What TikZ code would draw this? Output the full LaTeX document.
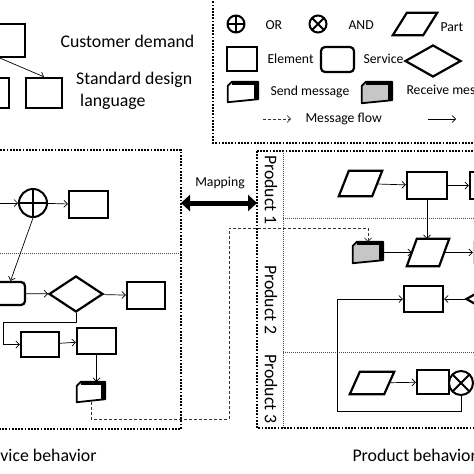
\documentclass[tikz,border=0pt]{standalone}
\usepackage{fontspec}
\setmainfont{Carlito}
\usetikzlibrary{arrows.meta,shapes.geometric,calc}

\newcommand{\msgshape}[2]{%
        \draw[line width=1.8pt,fill=#2,line join=round]
                ($(#1.north west)+(0,4)$) -- ($(#1.north west)+(4,0)$) -- (#1.north east)
                -- ($(#1.south east)+(0,-3)$) -- (#1.south west) -- cycle;
        \fill ($(#1.north west)+(4,0)$) -- (#1.north east) -- ($(#1.south east)+(0,-3)$)
                -- ($(#1.south east)+(-4,-3.5)$) -- ($(#1.north east)+(-4,3)$) -- ($(#1.north west)+(4,3)$) -- cycle;
}
\newcommand{\partshape}[2]{%
        \draw[line width=2.2pt,line join=miter]
                ($(#1.south west)+(-#2/2,0)$) -- ($(#1.north west)+(#2/2,0)$)
                -- ($(#1.north east)+(#2/2,0)$) -- ($(#1.south east)+(-#2/2,0)$) -- cycle;
}

\begin{document}
\begin{tikzpicture}[x=1pt,y=-1pt,
                elem/.style={draw,rectangle,line width=2.2pt,inner sep=0pt},
                serv/.style={elem,rounded corners=4pt},
                dec/.style={draw,diamond,line width=2.2pt,inner sep=0pt},
                part/.style={rectangle,inner sep=0pt},
                gate/.style={draw,circle,line width=2pt,inner sep=0pt},
                orgate/.style={gate,path picture={\draw[line width=2pt] (path picture bounding box.north) -- (path picture bounding box.south) (path picture bounding box.west) -- (path picture bounding box.east);}},
                andgate/.style={gate,path picture={\draw[line width=2pt] (path picture bounding box.north west) -- (path picture bounding box.south east) (path picture bounding box.north east) -- (path picture bounding box.south west);}},
                msg/.style={rectangle,inner sep=0pt},
                flow/.style={-{Straight Barb[length=3.5pt,width=7pt]},line width=0.7pt},
                msgflow/.style={flow,black!80,dash pattern=on 3pt off 2pt},
                panel/.style={line width=2.5pt,dash pattern=on 1.8pt off 1.4pt},
                lane/.style={line width=0.6pt,black!70,dash pattern=on 1pt off 1pt},
                bigtext/.style={font=\fontsize{17.8}{22}\selectfont},
                legtext/.style={font=\fontsize{13.7}{16}\selectfont}]

                \useasboundingbox (0,0) rectangle (474,474);

                \node[elem,minimum width=50,minimum height=33] (cdbox) at (0,40.5) {};
                \node[elem,minimum width=36,minimum height=30] (sl1) at (-9,93) {};
                \node[elem,minimum width=36,minimum height=30] (sl2) at (44,93) {};
                \draw[flow] (cdbox.south) -- (sl2.north);
                \node[bigtext,anchor=west] (cdtext) at (57,41) {Customer demand};
                \node[bigtext,anchor=north west,align=left,inner sep=0pt] (sltext) at (76,72) {Standard design\\\hspace{4pt}language};

                \draw[panel] (213,-5) rectangle (480,143);
                \node[orgate,minimum size=17] (lor) at (236,24) {};
                \node[legtext,anchor=west] (lortext) at (262,25) {OR};
                \node[andgate,minimum size=17] (land) at (318,24) {};
                \node[legtext,anchor=west] (landtext) at (345,25) {AND};
                \node[part,minimum width=30,minimum height=22] (lpart) at (415,24) {};
                \partshape{lpart}{14}
                \node[legtext,anchor=west] (lparttext) at (437,27) {Part};
                \node[elem,minimum width=30,minimum height=24] (lelem) at (242,59) {};
                \node[legtext,anchor=west] (lelemtext) at (264,59) {Element};
                \node[serv,minimum width=33,minimum height=25] (lserv) at (337.5,59.5) {};
                \node[legtext,anchor=west] (lservtext) at (360,59) {Service};
                \node[dec,minimum width=56,minimum height=32] (ldec) at (433,61) {};
                \node[msg,minimum width=30,minimum height=20] (lsend) at (243,92) {};
                \msgshape{lsend}{white}
                \node[legtext,anchor=west] (lsendtext) at (267,92) {Send message};
                \node[msg,minimum width=30,minimum height=21] (lrcv) at (377,92.5) {};
                \msgshape{lrcv}{gray!45}
                \node[legtext,anchor=west] (lrcvtext) at (403,91) {Receive message};
                \coordinate (lmf1) at (263,119);
                \coordinate (lmf2) at (291,119);
                \draw[msgflow] (lmf1) -- (lmf2);
                \node[legtext,anchor=west] (lmftext) at (302,119) {Message flow};
                \coordinate (lsf1) at (428,119);
                \coordinate (lsf2) at (456,119);
                \draw[flow] (lsf1) -- (lsf2);

                \draw[panel] (-10,150) rectangle (181,429);
                \draw[lane] (-10,253) -- (181,253);
                \coordinate (sin) at (-5,203);
                \node[orgate,minimum size=28] (sor) at (33,203) {};
                \node[elem,minimum width=39,minimum height=27] (sb1) at (88.5,204.5) {};
                \draw[flow] (sin) -- (sor);
                \draw[flow] (sor) -- (sb1);
                \node[serv,minimum width=45,minimum height=23] (ssv) at (2.5,293.5) {};
                \draw[flow] (sor.south) -- ($(ssv.north)+(8,0)$);
                \node[dec,minimum width=54,minimum height=36] (sdec) at (76,294) {};
                \node[elem,minimum width=38,minimum height=27] (sb2) at (146,295.5) {};
                \draw[flow] (ssv) -- (sdec);
                \draw[flow] (sdec) -- (sb2);
                \node[elem,minimum width=38,minimum height=25] (sb3) at (40,344.5) {};
                \node[elem,minimum width=39,minimum height=26] (sb4) at (96.5,341) {};
                \draw[flow] (sdec.south) |- (3,322) |- (sb3.west);
                \draw[flow] (sb3) -- (sb4);
                \node[msg,minimum width=28,minimum height=20] (ssend) at (91,392) {};
                \msgshape{ssend}{white}
                \draw[flow] (sb4.south) -- (sb4.south |- ssend.north);
                \node[bigtext,anchor=east] (stext) at (100,455) {Service behavior};

                \coordinate (lpE) at (181,203);
                \coordinate (rpW) at (257,203);
                \draw[line width=5pt,{Triangle[length=9pt,width=16pt]}-{Triangle[length=9pt,width=16pt]}] (lpE) -- (rpW);
                \node[legtext] (maptext) at (220,183) {Mapping};

                \draw[panel] (257,151) rectangle (480,428);
                \draw[lane] (283,151) -- (283,428);
                \draw[lane] (283,218) -- (480,218);
                \draw[lane] (283,352) -- (480,352);
                \node[bigtext,rotate=-90] (p1text) at (271,190) {Product 1};
                \node[bigtext,rotate=-90] (p2text) at (271,300) {Product 2};
                \node[bigtext,rotate=-90] (p3text) at (271,389) {Product 3};

                \node[part,minimum width=33,minimum height=25] (pp1) at (360.5,183.5) {};
                \partshape{pp1}{10}
                \node[elem,minimum width=40,minimum height=27] (pe1) at (427,185.5) {};
                \node[elem,minimum width=36,minimum height=27] (pe1b) at (488,185.5) {};
                \draw[flow] (pp1) -- (pe1);
                \draw[flow] (pe1) -- (pe1b);
                \node[msg,minimum width=30,minimum height=21] (prcv) at (368,252.5) {};
                \msgshape{prcv}{gray!45}
                \node[part,minimum width=32,minimum height=27] (pp2) at (428,252.5) {};
                \partshape{pp2}{10}
                \node[msg,fill=gray!40,minimum width=34,minimum height=23] (pg2) at (490,252.5) {};
                \draw[flow] (pe1.south) -- (pe1.south |- pp2.north);
                \draw[flow] (prcv) -- (pp2);
                \draw[flow] (pp2) -- (pg2);
                \draw[msgflow] (ssend.south) |- (229,419) -- (229,228) -| (prcv.north);

                \node[elem,minimum width=39,minimum height=26] (pe2) at (423.5,299) {};
                \node[dec,minimum width=56,minimum height=32] (pd2) at (494,299) {};
                \draw[flow] (pd2) -- (pe2);

                \node[part,minimum width=34,minimum height=22] (pp3) at (372,383) {};
                \partshape{pp3}{10}
                \node[elem,minimum width=32,minimum height=24] (pe3) at (433,382) {};
                \node[andgate,minimum size=24] (pand) at (461,383) {};
                \draw[flow] (pp3) -- (pe3);
                \draw[flow] (pand.south) |- (337,411) |- (pe2.west);
                \node[bigtext,anchor=west] (ptext) at (349,455) {Product behavior};

\end{tikzpicture}
\end{document}
